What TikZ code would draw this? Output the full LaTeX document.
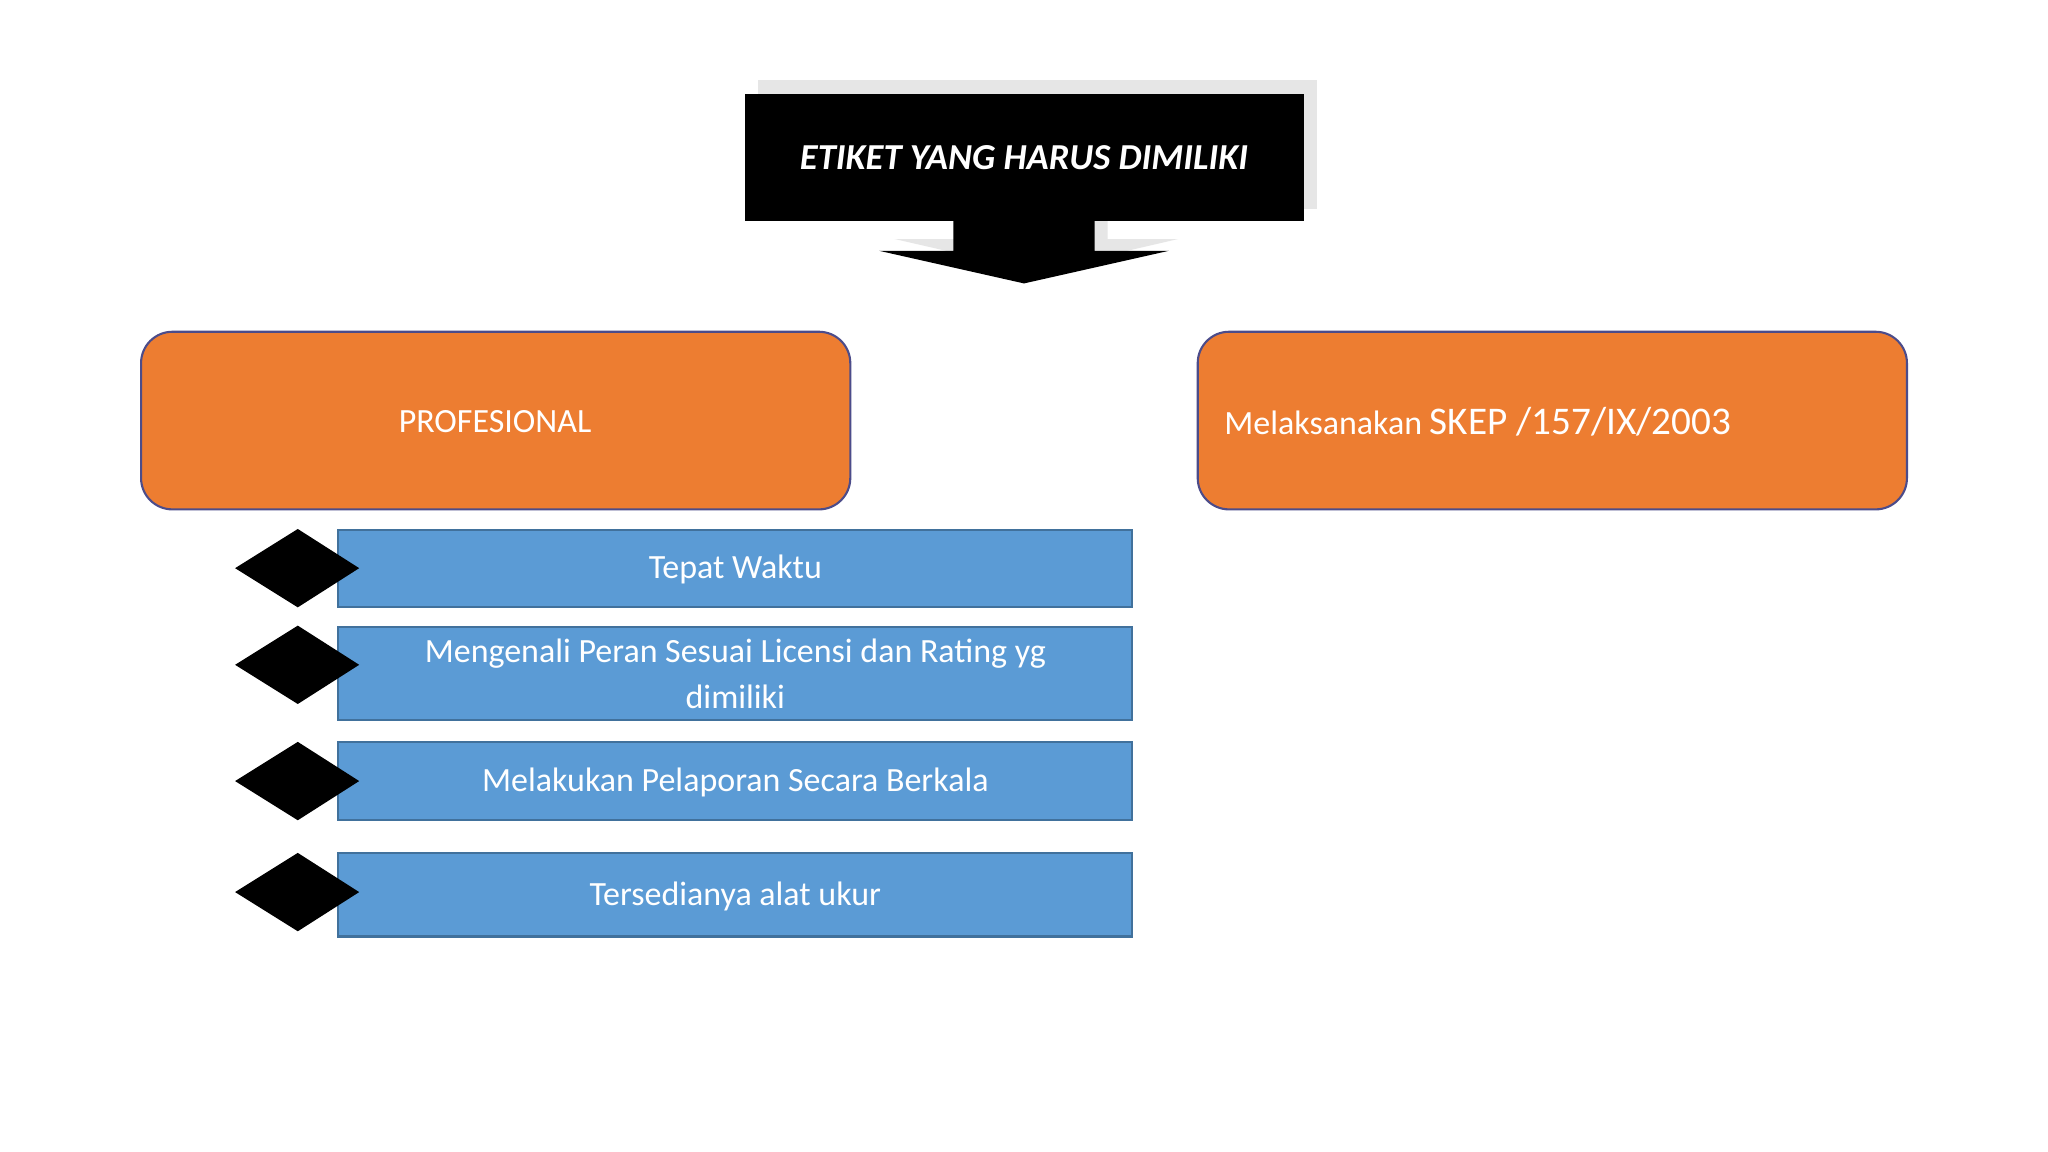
\documentclass[tikz,border=0pt]{standalone}
\usepackage{fontspec}
\setmainfont{Carlito}
\begin{document}
\begin{tikzpicture}[x=0.5pt,y=-0.5pt,
  orangebox/.style={draw=black!40!blue!40!gray,line width=0.8pt,fill=orgc,rounded corners=12pt,text=white},
  bluebox/.style={draw=bord,line width=0.8pt,fill=bluec,text=white,align=center,font=\fontsize{13pt}{17pt}\selectfont},
  dia/.style={fill=black}]
\definecolor{orgc}{HTML}{ED7D31}
\definecolor{bluec}{HTML}{5B9BD5}
\definecolor{bord}{HTML}{41719C}
\definecolor{shad}{HTML}{E6E6E6}
\useasboundingbox (0,0) rectangle (1568,882);
\fill[white] (0,0) rectangle (1568,882);
% shadow
\fill[shad] (580,61) rectangle (1008,160);
\fill[shad] (740,160) -- (848,160) -- (848,183) -- (902,183) -- (794,208) -- (685,183) -- (740,183) -- cycle;
% title arrow
\fill[black] (570,72) rectangle (998,169);
\fill[black] (730,168) -- (838,168) -- (838,192) -- (895,192) -- (784,217) -- (673,192) -- (730,192) -- cycle;
\node[text=white,font=\fontsize{14pt}{17pt}\selectfont\bfseries\itshape] (title) at (784,121) {ETIKET YANG HARUS DIMILIKI};
% orange boxes
\draw[orangebox] (108,254) rectangle (651,390);
\node[text=white,font=\fontsize{13pt}{16pt}\selectfont] (prof) at (379,323) {PROFESIONAL};
\draw[orangebox] (917,254) rectangle (1460,390);
\node[text=white,anchor=west,inner sep=0pt] (skep) at (937,323) {\fontsize{13pt}{16pt}\selectfont Melaksanakan \fontsize{15pt}{18pt}\selectfont SKEP /157/IX/2003};
% blue boxes
\draw[bord,line width=0.8pt,fill=bluec] (259,406) rectangle (867,465);
\draw[bord,line width=0.8pt,fill=bluec] (259,480) rectangle (867,551);
\draw[bord,line width=0.8pt,fill=bluec] (259,568) rectangle (867,628);
\draw[bord,line width=0.8pt,fill=bluec] (259,653) rectangle (867,717);
\node[text=white,font=\fontsize{13pt}{17pt}\selectfont] (b1) at (563,436) {Tepat Waktu};
\node[text=white,align=center,font=\fontsize{13pt}{17.5pt}\selectfont] (b2) at (563,516) {Mengenali Peran Sesuai Licensi dan Rating yg\\dimiliki};
\node[text=white,font=\fontsize{13pt}{17pt}\selectfont] (b3) at (563,599) {Melakukan Pelaporan Secara Berkala};
\node[text=white,font=\fontsize{13pt}{17pt}\selectfont] (b4) at (563,686) {Tersedianya alat ukur};
% diamonds
\foreach \y/\n in {435/d1,509/d2,598/d3,683/d4}{
  \fill[black] (180,\y) -- (228,\y-30) -- (275,\y) -- (228,\y+30) -- cycle;
}
\end{tikzpicture}
\end{document}
